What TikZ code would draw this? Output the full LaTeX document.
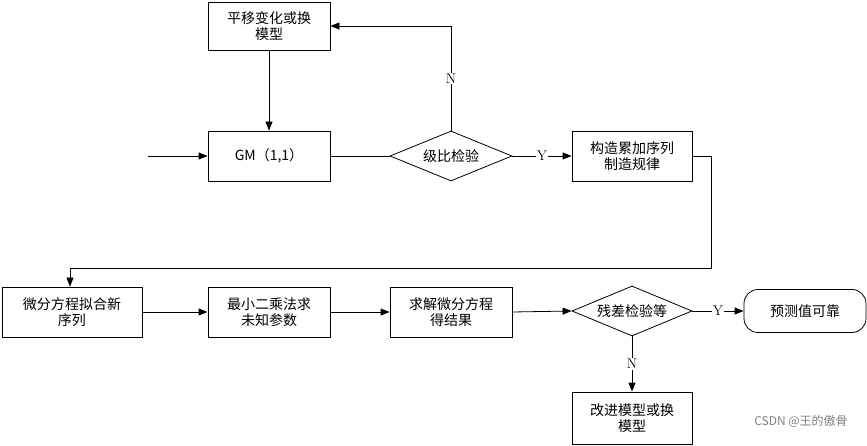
\documentclass[tikz,border=0pt]{standalone}
\usepackage{fontspec}
\newfontfamily\cjk{Noto Sans CJK SC}
\usetikzlibrary{shapes.geometric,arrows.meta}
\begin{document}
\begin{tikzpicture}[x=1pt,y=-1pt,
  box/.style={draw,line width=0.8pt,minimum width=122pt,minimum height=48pt,align=center,inner sep=2pt,font=\cjk\fontsize{14}{16}\selectfont},
  dia/.style={draw,line width=0.8pt,diamond,aspect=2.44,minimum width=122pt,minimum height=50pt,inner sep=0pt,align=center,font=\cjk\fontsize{14}{16}\selectfont},
  arr/.style={-{Triangle[length=9pt,width=7pt]},line width=0.8pt},
  ln/.style={line width=0.8pt},
  lab/.style={font=\fontsize{14}{16}\selectfont,fill=white,inner sep=1pt}]
\useasboundingbox (0,0) rectangle (867,446);
\node[box] (a) at (269,26) {平移变化或换\\模型};
\node[box,minimum height=50pt] (gm) at (269,156) {GM（1,1）};
\node[dia] (d1) at (451,156) {级比检验};
\node[box,minimum width=120pt,minimum height=50pt] (c) at (632,156) {构造累加序列\\制造规律};
\coordinate (in) at (148,156);
\draw[arr] (in) -- (gm);
\draw[ln] (gm) -- (d1);
\draw[arr] (d1) -- node[lab]{Y} (c);
\draw[arr] (d1.north) |- node[lab,pos=0.25]{N} (a.east);
\draw[arr] (a) -- (gm);
\node[box,minimum width=140pt,minimum height=50pt] (f) at (72,312) {微分方程拟合新\\序列};
\node[box,minimum height=50pt] (g) at (269,312) {最小二乘法求\\未知参数};
\node[box,minimum height=50pt] (h) at (451,312) {求解微分方程\\得结果};
\node[dia,minimum width=120pt] (d2) at (632,311) {残差检验等};
\node[box,rounded corners=14pt,minimum height=43pt] (p) at (805,311) {预测值可靠};
\node[box,minimum width=120pt,minimum height=52pt] (k) at (632,418) {改进模型或换\\模型};
\coordinate (r1) at (711,156);
\coordinate (r2) at (711,268);
\coordinate (r3) at (70,268);
\draw[arr] (c.east) -- (r1) -- (r2) -- (r3) -- (f.north -| r3);
\draw[arr] (f) -- (g);
\draw[arr] (g) -- (h);
\draw[arr] (h.east) -- (d2.west);
\draw[arr] (d2) -- node[lab]{Y} (p);
\draw[arr] (d2) -- node[lab]{N} (k);
\node[font=\cjk\fontsize{12}{14}\selectfont,text=gray] (w) at (801,421) {CSDN @王的傲骨};
\end{tikzpicture}
\end{document}
